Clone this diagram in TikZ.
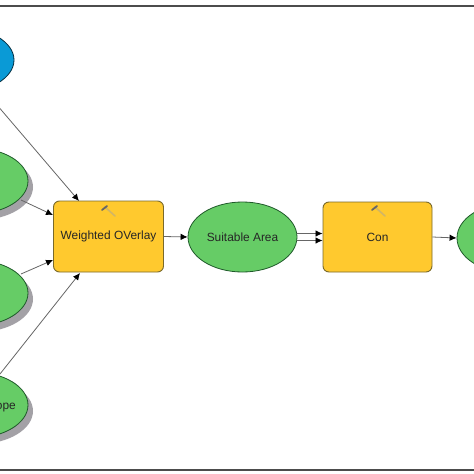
\documentclass[tikz,border=0pt]{standalone}
\usepackage{fontspec}
\setmainfont{Liberation Sans}
\usetikzlibrary{arrows.meta,shapes.geometric}
\definecolor{grn}{HTML}{66CC66}
\definecolor{blu}{HTML}{0A9AD6}
\definecolor{yel}{HTML}{FFC92E}
\definecolor{yed}{HTML}{7A6A2A}
\definecolor{grd}{HTML}{1F5A2A}
\definecolor{shd}{HTML}{A3A1A6}
\definecolor{lin}{HTML}{666666}
\tikzset{
  data/.style={ellipse,draw=grd,line width=.8pt,fill=grn,minimum width=109pt,minimum height=70pt,inner sep=0pt,font=\fontsize{11.9pt}{13pt}\selectfont\color{black!85}},
  side/.style={data,minimum height=66pt},
  shade/.style={ellipse,fill=shd,minimum width=109pt,minimum height=66pt,inner sep=0pt},
  toolbox/.style={rectangle,rounded corners=6pt,draw=yed,line width=.9pt,fill=yel,minimum width=110pt,minimum height=71pt,inner sep=0pt,font=\fontsize{11.9pt}{13pt}\selectfont\color{black!85}},
  conn/.style={draw=lin,line width=.8pt,-{Latex[black,length=7pt,width=6.5pt]}},
  frame/.style={draw=black!70,line width=1.3pt},
  hammer/.style={line cap=round}
}
\begin{document}
\begin{tikzpicture}[x=1pt,y=-1pt]
\useasboundingbox (0,0) rectangle (474,474);
\clip (0,0) rectangle (474,474);
\fill[white] (0,0) rectangle (474,474);
\coordinate (tl) at (0,6);
\coordinate (tr) at (474,6);
\coordinate (bl) at (0,470);
\coordinate (br) at (474,470);
\draw[frame] (tl) -- (tr);
\draw[frame] (bl) -- (br);
\node[ellipse,draw=black!70!blu,line width=.8pt,fill=blu,minimum width=109pt,minimum height=65pt,inner sep=0pt] (input) at (-40.5,60) {};
\coordinate (src) at (-9,98);
\node[shade] at (-21.5,187) {};
\node[shade] at (-21.5,299) {};
\node[shade] at (-21.5,411) {};
\node[side] (g1) at (-26.5,181) {};
\node[side] (g2) at (-26.5,293) {};
\node[side] (g3) at (-26.5,405) {};
\node[anchor=base east,inner sep=0pt,font=\fontsize{11.9pt}{13pt}\selectfont\color{black!85}] (slope) at (16,409) {Slope};
\node[toolbox] (wo) at (108.5,236.5) {\raisebox{-1.5pt}{Weighted OVerlay}};
\node[data] (sa) at (242.5,237) {\raisebox{-1pt}{Suitable Area}};
\node[toolbox,minimum width=109pt,minimum height=70pt] (con) at (377.5,237) {Con};
\node[data] (out) at (511.5,238) {};
\coordinate (wo1) at (79,201);
\coordinate (wo2) at (53,215);
\coordinate (wo3) at (53,260);
\coordinate (wo4) at (80,273);
\draw[conn] (src) -- (wo1);
\draw[conn] (21,200) -- (wo2);
\draw[conn] (21,274) -- (wo3);
\draw[conn] (0,374) -- (wo4);
\draw[conn] (wo.east) -- (sa.west);
\draw[conn] ([yshift=-3.5pt]sa.east) -- ([yshift=-3.5pt]con.west);
\draw[conn] ([yshift=3.5pt]sa.east) -- ([yshift=3.5pt]con.west);
\draw[conn] (con.east) -- (out.west);
\foreach \x/\y in {101/205,371/205}{
  \draw[hammer,line width=1.6pt,draw=black!25!yel!70!white] (\x+4,\y+2) -- (\x+14,\y+11);
  \draw[hammer,line width=1.8pt,draw=black!60] (\x+1,\y+5) -- (\x+6,\y+1);
}
\end{tikzpicture}
\end{document}
